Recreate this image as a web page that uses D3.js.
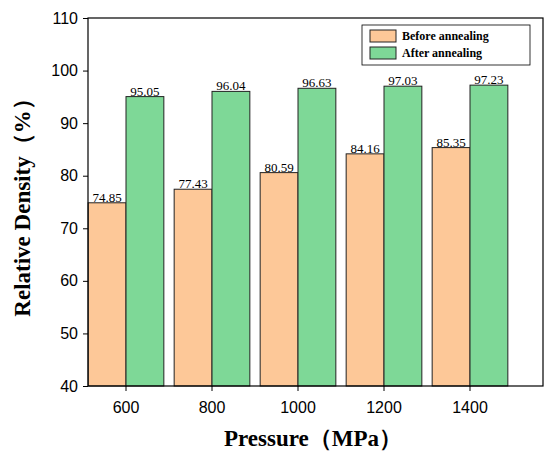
<!DOCTYPE html>
<html><head><meta charset="utf-8">
<script src="https://cdn.jsdelivr.net/npm/d3@7"></script>
<style>body{margin:0;background:#fff}</style></head>
<body><svg id="c" width="550" height="458"></svg>
<script>
const categories=["600","800","1000","1200","1400"];
const before=[74.85,77.43,80.59,84.16,85.35];
const after=[95.05,96.04,96.63,97.03,97.23];
const seriesNames=["Before annealing","After annealing"];
const yTicks=[40,50,60,70,80,90,100,110];
const colors=["#FDC898","#7ED897"];

const svg=d3.select("#c");
const L=88,R=543,T=18,B=386;
const y=d3.scaleLinear().domain([40,110]).range([B,T]);
const x=d3.scaleBand().domain(categories).range([83,513]).paddingInner(0.12).paddingOuter(0.06);
const xs=d3.scaleBand().domain([0,1]).range([0,x.bandwidth()]);

const g=svg.append("g");
[before,after].forEach((vals,si)=>{
  g.selectAll(null).data(vals).enter().append("rect")
   .attr("x",(d,i)=>x(categories[i])+xs(si)).attr("width",xs.bandwidth())
   .attr("y",d=>y(d)).attr("height",d=>B-y(d))
   .attr("fill",colors[si]).attr("stroke","#222").attr("stroke-width",1);
  g.selectAll(null).data(vals).enter().append("text")
   .attr("x",(d,i)=>x(categories[i])+xs(si)+xs.bandwidth()/2).attr("y",d=>y(d)-1)
   .attr("text-anchor","middle").attr("font-family","Liberation Serif").attr("font-size",13)
   .text(d=>d.toFixed(2));
});
svg.append("rect").attr("x",L).attr("y",T).attr("width",R-L).attr("height",B-T)
  .attr("fill","none").attr("stroke","#000").attr("stroke-width",1.2);

const ya=svg.append("g").attr("transform",`translate(${L},0)`)
  .call(d3.axisLeft(y).tickValues(yTicks).tickSize(5).tickPadding(5));
ya.select(".domain").remove();
ya.selectAll("text").attr("font-family","Liberation Sans").attr("font-size",16).attr("fill","#000");
const xa=svg.append("g").attr("transform",`translate(0,${B})`)
  .call(d3.axisBottom(x).tickSize(5).tickPadding(11));
xa.select(".domain").remove();
xa.selectAll("text").attr("font-family","Liberation Sans").attr("font-size",16).attr("fill","#000");

svg.append("text").attr("x",313).attr("y",446).attr("text-anchor","middle")
  .attr("font-family","Liberation Serif").attr("font-weight","bold").attr("font-size",23)
  .text("Pressure（MPa）");
svg.append("text").attr("transform",`translate(30,${(T+B)/2}) rotate(-90)`).attr("text-anchor","middle")
  .attr("font-family","Liberation Serif").attr("font-weight","bold").attr("font-size",23)
  .text("Relative Density（%）");

const lg=svg.append("g").attr("transform","translate(362,25)");
lg.append("rect").attr("width",168).attr("height",40).attr("fill","#fff").attr("stroke","#000").attr("stroke-width",0.8);
seriesNames.forEach((n,i)=>{
  lg.append("rect").attr("x",8).attr("y",5+i*17).attr("width",26).attr("height",12)
    .attr("fill",colors[i]).attr("stroke","#222");
  lg.append("text").attr("x",40).attr("y",15+i*17).attr("font-family","Liberation Serif")
    .attr("font-weight","bold").attr("font-size",12).text(n);
});
</script></body></html>
